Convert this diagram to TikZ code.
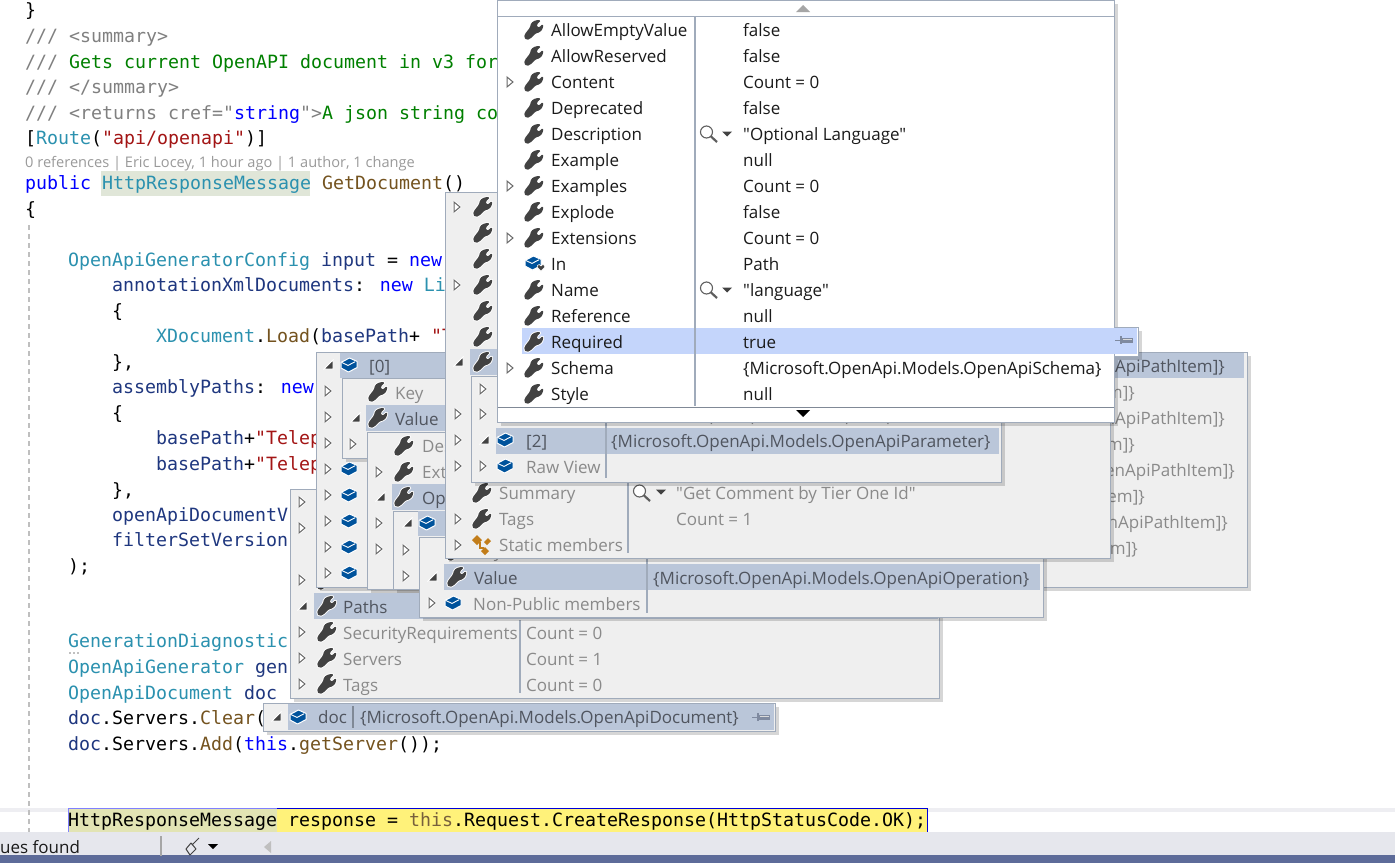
\documentclass[tikz,border=0pt]{standalone}
\usepackage{fontspec}
\newfontfamily\uif{Open Sans}
\setmainfont{Open Sans}
\newfontfamily\cf{DejaVu Sans Mono}
\definecolor{wbg}{HTML}{EFEFEF}
\definecolor{wbd}{HTML}{A0ABBB}
\definecolor{hl}{HTML}{BAC6D9}
\definecolor{hlb}{HTML}{C4D5FB}
\definecolor{gtx}{HTML}{8A8A8A}
\definecolor{htx}{HTML}{50555F}
\definecolor{btx}{HTML}{1A1A1A}
\definecolor{icn}{HTML}{424242}
\definecolor{bx}{HTML}{00539C}
\definecolor{org}{HTML}{C27D1A}
\definecolor{cGreen}{HTML}{008000}
\definecolor{cGray}{HTML}{808080}
\definecolor{cBlue}{HTML}{0000FF}
\definecolor{cTeal}{HTML}{2B91AF}
\definecolor{cRed}{HTML}{A31515}
\definecolor{cVar}{HTML}{1F377F}
\definecolor{cMeth}{HTML}{74531F}
\definecolor{lenscol}{HTML}{9A9A9A}
\definecolor{rowhl}{HTML}{E0E6D8}
\definecolor{curln}{HTML}{EEEEF2}
\definecolor{yel}{HTML}{FFF27A}
\definecolor{yelg}{HTML}{E2E4B4}
\definecolor{stbar}{HTML}{E6E7ED}
\definecolor{stband}{HTML}{5D6B99}
\definecolor{pinc}{HTML}{7F8AA0}
\newcommand\cKw[1]{\textcolor{cBlue}{#1}}
\newcommand\cTy[1]{\textcolor{cTeal}{#1}}
\newcommand\cVa[1]{\textcolor{cVar}{#1}}
\newcommand\cSr[1]{\textcolor{cRed}{#1}}
\newcommand\cCo[1]{\textcolor{cGreen}{#1}}
\newcommand\cGr[1]{\textcolor{cGray}{#1}}
\newcommand\cMe[1]{\textcolor{cMeth}{#1}}
\newcounter{nn}
\tikzset{
 ui/.style={inner sep=0pt,font=\fontsize{17}{20}\uif},
 codetext/.style={inner sep=0pt,anchor=base west,font=\fontsize{18.27}{20}\cf},
 windowbox/.style={fill=wbg,draw=wbd,line width=1pt},
 shadowbox/.style={fill=black,fill opacity=.16},
 divider/.style={draw=wbd,line width=1.4pt},
}
\newcommand\uit[4]{\stepcounter{nn}\node[ui,text=#3,anchor=base west] (u\arabic{nn}) at (#1,#2+6) {#4};}
\newcommand\uir[4]{\stepcounter{nn}\node[ui,text=#3,anchor=base east] (u\arabic{nn}) at (#1,#2+6) {#4};}
\newcommand\codeln[3]{\stepcounter{nn}\node[codetext] (c\arabic{nn}) at (#1,#2+6) {#3};}
\newcommand\win[4]{\fill[shadowbox] (#1+4,#2+4) rectangle (#3+4,#4+4);\path[windowbox] (#1,#2) rectangle (#3,#4);}
\newcommand\hrow[4]{\fill[hl] (#1,#2) rectangle (#3,#4);}
\newcommand\wrpath{(-3,-2.5) -- (-2,-7) -- (2.5,-9.8) -- (8,-9.8) -- (3.6,-5.2) -- (4,-3) -- (6,-2.4) -- (10,-6.2) -- (10,-1.5) -- (7,2.2) -- (2.6,3.4) -- (-3,9) -- (-6.5,10) -- (-9,7.5) -- (-8.2,4.2) -- cycle}
\newcommand\iWr[2]{\begin{scope}[shift={(#1,#2)}]
 \path[draw=white,line width=1.8pt,rounded corners=1.4pt] \wrpath;
 \fill[icn,rounded corners=1.4pt] \wrpath;
 \end{scope}}
\newcommand\iCu[2]{\begin{scope}[shift={(#1,#2)}]
 \path[fill=bx,draw=white,line width=1pt,line join=round] (-8,-2.6) -- (0.5,-7) -- (8,-3.6) -- (8,2.6) -- (-0.5,7) -- (-8,3) -- cycle;
 \draw[white,line width=.9pt] (-7,-2.4) -- (-1,0.4) -- (6,-3.2);
 \end{scope}}
\newcommand\iEn[2]{\iCu{#1}{#2}\begin{scope}[shift={(#1+8,#2+4)}]
 \path[fill=icn,draw=white,line width=.6pt] (0,4) -- (-3.6,0.4) -- (-3.6,-1.5) -- (-1.8,-2.5) -- (0,-1) -- (1.8,-2.5) -- (3.6,-1.5) -- (3.6,0.4) -- cycle;
 \end{scope}}
\newcommand\iSt[2]{\begin{scope}[shift={(#1,#2)}]
 \fill[org] (-9,-5) -- (-4,-10) -- (1,-5) -- (-4,0) -- cycle;
 \fill[org] (0,6) -- (4,2) -- (8,6) -- (4,10) -- cycle;
 \fill[org] (3,-3) -- (7,-7) -- (10,-4) -- (6,0) -- cycle;
 \draw[org,line width=1.5pt] (-1,-3) -- (-1,3) -- (3,3);
 \end{scope}}
\newcommand\trc[2]{\path[draw=white,line width=2.6pt,line join=round] (#1-3,#2-5) -- (#1+3,#2) -- (#1-3,#2+5) -- cycle;\path[fill=white,draw=icn!80,line width=1pt] (#1-3,#2-5) -- (#1+3,#2) -- (#1-3,#2+5) -- cycle;}
\newcommand\tre[2]{\path[fill=icn,draw=white,line width=1pt] (#1+5,#2-5) -- (#1+5,#2+4) -- (#1-4,#2+4) -- cycle;}
\newcommand\iLe[2]{\begin{scope}[shift={(#1,#2)}]
 \draw[icn!85,line width=1.1pt,fill=white] (-1.5,-2) circle[radius=6];
 \draw[icn!85,line width=2.2pt] (3,2.5) -- (9,8);
 \end{scope}}
\newcommand\iCa[2]{\fill[icn] (#1-5,#2-2.5) -- (#1+5,#2-2.5) -- (#1,#2+2.5) -- cycle;}
\newcommand\iPi[2]{\begin{scope}[shift={(#1,#2)}]
 \draw[pinc,line width=1pt] (-10,0) -- (-5,0);
 \fill[pinc] (-5,-4) rectangle (-3,4);
 \fill[pinc] (-3,-2.5) rectangle (8,3);
 \fill[white!70!gray] (-2,-1.5) rectangle (7,0);
 \end{scope}}
\begin{document}
\begin{tikzpicture}[x=1pt,y=-1pt]
\useasboundingbox (0,0) rectangle (1395,863);
\clip (0,0) rectangle (1395,863);
\fill[white] (0,0) rectangle (1395,863);
% ---- editor backgrounds
\fill[rowhl] (101,171) rectangle (310,196);
\fill[curln] (0,808) rectangle (1395,812);
\fill[yelg] (68,809) rectangle (277,832);
\fill[yel] (277,809) rectangle (927,832);
\draw[blue!50!white,line width=1pt] (68,832) -- (68,808.5) -- (277,808.5);
\draw[blue!85!black,line width=1pt] (277,808.5) -- (927,808.5) -- (927,832);
\draw[lightgray,line width=1.2pt,dash pattern=on 5pt off 4pt] (29,225) -- (29,832);
% ---- code
\codeln{25}{10}{\}}
\codeln{25}{36}{\cGr{/// <summary>}}
\codeln{25}{62}{\cGr{///} \cCo{Gets current OpenAPI document in v3 for}}
\codeln{25}{87}{\cGr{/// </summary>}}
\codeln{25}{113}{\cGr{/// <returns cref="}\cKw{string}\cGr{">}\cCo{A json string co}}
\codeln{25}{138}{[\cTy{Route}(\cSr{"api/openapi"})]}
\stepcounter{nn}\node[inner sep=0pt,anchor=base west,text=lenscol,font=\fontsize{14.6}{16}\uif] (lensline) at (25,167) {0 references | Eric Locey, 1 hour ago | 1 author, 1 change};
\codeln{25}{183}{\cKw{public} \cTy{HttpResponseMessage} \cMe{GetDocument}()}
\codeln{25}{209}{\{}
\codeln{68}{260}{\cTy{OpenApiGeneratorConfig} \cVa{input} = \cKw{new}}
\codeln{112}{285}{\cVa{annotationXmlDocuments}: \cKw{new} \cTy{Lis}}
\codeln{112}{311}{\{}
\codeln{156}{336}{\cTy{XDocument}.\cMe{Load}(\cVa{basePath}+ \cSr{"T}}
\codeln{112}{362}{\},}
\codeln{112}{387}{\cVa{assemblyPaths}: \cKw{new}}
\codeln{112}{413}{\{}
\codeln{156}{438}{\cVa{basePath}+\cSr{"Telep}}
\codeln{156}{464}{\cVa{basePath}+\cSr{"Telep}}
\codeln{112}{490}{\},}
\codeln{112}{515}{\cVa{openApiDocumentV}}
\codeln{112}{540}{\cVa{filterSetVersion}}
\codeln{68}{566}{);}
\codeln{68}{641}{\cTy{GenerationDiagnostic}}
\fill[gray] (70,653) circle[radius=.8] (74,653) circle[radius=.8] (78,653) circle[radius=.8];
\codeln{68}{667}{\cTy{OpenApiGenerator} \cVa{gen}}
\codeln{68}{693}{\cTy{OpenApiDocument} \cVa{doc}}
\codeln{68}{718}{\cVa{doc}.Servers.\cMe{Clear}(}
\codeln{68}{744}{\cVa{doc}.Servers.\cMe{Add}(\cKw{this}.\cMe{getServer}());}
\codeln{68}{820}{HttpResponseMessage}
\codeln{288}{820}{response = \textcolor{cMeth!70!gray}{this}.Request.CreateResponse(HttpStatusCode.OK);}
% ---- status bar
\fill[stbar] (0,832) rectangle (1395,855);
\fill[stband] (0,855) rectangle (1395,863);
\node[ui,text=btx,anchor=base west] (st) at (0,853) {ues found};
\draw[gray!70,line width=1.2pt] (161,836) -- (161,856);
\draw[icn,line width=1pt,line join=round] (199,838) -- (192,845) (186,849) -- (191,843) -- (196,849) -- (190,855) -- cycle;
\fill[black] (208,844) -- (218,844) -- (213,849) -- cycle;
\fill[gray!50] (271,841) -- (271,853) -- (264,847) -- cycle;
% ---- doc row
\win{263}{703}{775}{731}
\hrow{288}{704}{774}{730}
\tre{276}{717}
\iCu{298}{717}
\uit{318}{717}{htx}{doc}
\draw[divider,draw=wbd!80!black] (353,706) -- (353,728);
\uit{360}{717}{htx}{\{Microsoft.OpenApi.Models.OpenApiDocument\}}
\iPi{762}{717}
% ---- window F
\win{290}{489}{939}{698}
\hrow{314}{593}{938}{619}
\trc{302}{502} \trc{302}{528} \trc{302}{580}
\iWr{326}{580}
\tre{302}{606} \iWr{326}{606}
\uit{343}{607}{htx}{Paths}
\trc{302}{632} \iWr{326}{632} \uit{343}{633}{gtx}{SecurityRequirements} \uit{526}{633}{gtx}{Count = 0}
\trc{302}{658} \iWr{326}{658} \uit{343}{659}{gtx}{Servers} \uit{526}{659}{gtx}{Count = 1}
\trc{302}{684} \iWr{326}{684} \uit{343}{685}{gtx}{Tags} \uit{526}{685}{gtx}{Count = 0}
\draw[divider] (520,620) -- (520,693);
% ---- window A
\win{316}{352}{1247}{587}
\hrow{340}{352.5}{1244}{378}
\tre{328}{365} \iCu{349}{365} \uit{369}{366}{htx}{[0]}
\uir{1225}{366}{htx}{nApiPathItem]\}}
\uir{1135}{392}{gtx}{tem]\}}
\uir{1225}{418}{gtx}{nApiPathItem]\}}
\uir{1135}{444}{gtx}{tem]\}}
\uir{1235}{470}{gtx}{enApiPathItem]\}}
\uir{1145}{496}{gtx}{tem]\}}
\uir{1228}{522}{gtx}{nApiPathItem]\}}
\uir{1138}{548}{gtx}{tem]\}}
\trc{328}{391} \trc{328}{417} \trc{328}{443}
\trc{328}{469} \iCu{349}{469}
\trc{328}{495} \iCu{349}{495}
\trc{328}{521} \iCu{349}{521}
\trc{328}{547} \iCu{349}{547}
\trc{328}{573} \iCu{349}{573}
% ---- window B
\win{342}{378}{500}{458}
\iWr{377}{392} \uit{395}{393}{gtx}{Key}
\hrow{366}{405}{500}{431}
\tre{355}{418} \iWr{377}{418} \uit{395}{419}{htx}{Value}
\trc{353}{444}
% ---- window C
\win{367}{432}{500}{589}
\iWr{403}{446} \uit{422}{446}{gtx}{Des}
\trc{379}{472} \iWr{403}{472} \uit{422}{472}{gtx}{Ext}
\hrow{392}{484}{500}{510}
\tre{380}{497} \iWr{403}{497} \uit{422}{498}{htx}{Op}
\trc{379}{523} \trc{379}{549}
% ---- window D
\win{393}{511}{500}{589}
\hrow{418}{511}{500}{536}
\tre{407}{523} \iCu{427}{523}
\trc{406}{550} \trc{406}{576}
% ---- window E
\win{419}{537}{1043}{617}
\iWr{456}{551} \uit{474}{551}{gtx}{Key}
\hrow{444}{564}{1040}{590}
\tre{432}{577} \iWr{456}{577} \uit{474}{578}{htx}{Value}
\uit{653}{578}{htx}{\{Microsoft.OpenApi.Models.OpenApiOperation\}}
\trc{432}{603} \iCu{453}{603} \uit{473}{604}{gtx}{Non-Public members}
\draw[divider] (647,555) -- (647,613);
% ---- window G
\win{445}{192}{1110}{558}
\trc{457}{207} \iWr{482}{207}
\iWr{482}{233} \iWr{482}{259}
\trc{457}{285} \iWr{482}{285}
\iWr{482}{311} \iWr{482}{337}
\hrow{470}{349}{1100}{375}
\tre{458}{362} \iWr{482}{362}
\trc{458}{414} \trc{458}{440} \trc{458}{466}
\iWr{481}{493} \uit{499}{493}{gtx}{Summary}
\iLe{641}{493} \iCa{661}{492} \uit{676}{493}{gtx}{"Get Comment by Tier One Id"}
\trc{458}{519} \iWr{481}{519} \uit{499}{519}{gtx}{Tags} \uit{676}{519}{gtx}{Count = 1}
\trc{458}{545} \iSt{481}{545} \uit{499}{545}{gtx}{Static members}
\draw[divider] (628,480) -- (628,553);
% ---- window H
\win{471}{376}{1001}{482}
\trc{483}{389} \trc{483}{414}
\uit{526}{414}{gtx}{[1]} \uit{611}{414}{gtx}{\{Microsoft.OpenApi.Models.OpenApiParameter\}}
\hrow{496}{428}{999}{454}
\tre{484}{440} \iCu{505}{440} \uit{526}{441}{htx}{[2]}
\uit{611}{441}{htx}{\{Microsoft.OpenApi.Models.OpenApiParameter\}}
\trc{483}{466} \iCu{505}{466} \uit{526}{467}{gtx}{Raw View}
\draw[divider] (606,420) -- (606,478);
% ---- white window I
\fill[shadowbox] (501,4) rectangle (1118,426);
\path[fill=white,draw=wbd,line width=1pt] (497.5,0.5) rectangle (1114,422);
\draw[wbd,line width=1pt] (497.5,16) -- (1114,16);
\draw[wbd!80!black,line width=1pt] (497.5,407) -- (1114,407);
\fill[gray!70] (796,12) -- (810,12) -- (803,5) -- cycle;
\fill[black] (796,410) -- (810,410) -- (803,417) -- cycle;
\fill[shadowbox] (1118,331) rectangle (1142,360);
\path[fill=white,draw=wbd,line width=1pt] (1114,327) rectangle (1138,356);
\fill[hlb] (522,328) rectangle (1137,354);
\draw[divider] (695,17) -- (695,406);
\iWr{533}{30} \uit{551}{30}{btx}{AllowEmptyValue} \uit{743}{30}{btx}{false}
\iWr{533}{56} \uit{551}{56}{btx}{AllowReserved} \uit{743}{56}{btx}{false}
\trc{510}{82} \iWr{533}{82} \uit{551}{82}{btx}{Content} \uit{743}{82}{btx}{Count = 0}
\iWr{533}{108} \uit{551}{108}{btx}{Deprecated} \uit{743}{108}{btx}{false}
\iWr{533}{134} \uit{551}{134}{btx}{Description} \iLe{708}{134} \iCa{727}{134} \uit{743}{134}{btx}{"Optional Language"}
\iWr{533}{160} \uit{551}{160}{btx}{Example} \uit{743}{160}{btx}{null}
\trc{510}{186} \iWr{533}{186} \uit{551}{186}{btx}{Examples} \uit{743}{186}{btx}{Count = 0}
\iWr{533}{212} \uit{551}{212}{btx}{Explode} \uit{743}{212}{btx}{false}
\trc{510}{238} \iWr{533}{238} \uit{551}{238}{btx}{Extensions} \uit{743}{238}{btx}{Count = 0}
\iEn{533}{263} \uit{551}{264}{btx}{In} \uit{743}{264}{btx}{Path}
\iWr{533}{290} \uit{551}{290}{btx}{Name} \iLe{708}{290} \iCa{727}{290} \uit{743}{290}{btx}{"language"}
\iWr{533}{316} \uit{551}{316}{btx}{Reference} \uit{743}{316}{btx}{null}
\iWr{533}{342} \uit{551}{342}{btx}{Required} \uit{743}{342}{btx}{true}
\iPi{1125}{340}
\trc{510}{368} \iWr{533}{368} \uit{551}{368}{btx}{Schema} \uit{743}{368}{btx}{\{Microsoft.OpenApi.Models.OpenApiSchema\}}
\iWr{533}{394} \uit{551}{394}{btx}{Style} \uit{743}{394}{btx}{null}
\end{tikzpicture}
\end{document}
